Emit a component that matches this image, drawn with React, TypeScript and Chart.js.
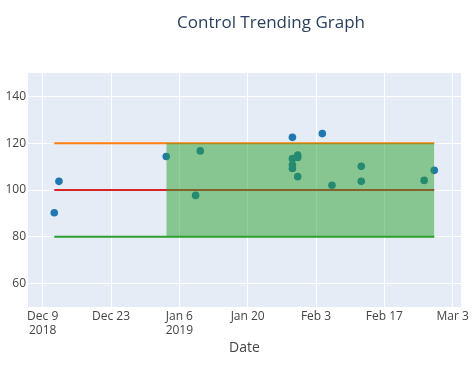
import React, { useEffect, useRef } from "react";
import { Chart, registerables } from "chart.js";

Chart.register(...registerables);

// ---- data ----
const TITLE = "Control Trending Graph";
const X_TITLE = "Date";
const ORIGIN = "2018-12-09T00:00";

const pointDates = [
  "2018-12-11T09:00",
  "2018-12-12T08:00",
  "2019-01-03T07:40",
  "2019-01-09T08:00",
  "2019-01-10T07:00",
  "2019-01-29T04:00",
  "2019-01-29T04:00",
  "2019-01-29T04:00",
  "2019-01-29T04:00",
  "2019-01-30T06:00",
  "2019-01-30T06:00",
  "2019-01-30T06:00",
  "2019-02-04T07:00",
  "2019-02-06T06:30",
  "2019-02-12T06:30",
  "2019-02-12T06:30",
  "2019-02-25T04:00",
  "2019-02-27T05:30",
];
const pointValues = [
  90.3, 103.7, 114.3, 97.7, 116.7, 122.5, 113.4, 110.8, 109.2, 114.9, 113.9,
  105.7, 124.1, 102.0, 110.1, 103.7, 104.1, 108.4,
];

const UCL = 120;
const CENTER = 100;
const LCL = 80;
const LIMIT_START = "2018-12-11T09:00";
const BAND_START = "2019-01-03T07:40";
const LIMIT_END = "2019-02-27T05:30";

const xTickDates = [
  "2018-12-09T00:00",
  "2018-12-23T00:00",
  "2019-01-06T00:00",
  "2019-01-20T00:00",
  "2019-02-03T00:00",
  "2019-02-17T00:00",
  "2019-03-03T00:00",
];
const xTickLabels = [
  ["Dec 9", "2018"],
  ["Dec 23"],
  ["Jan 6", "2019"],
  ["Jan 20"],
  ["Feb 3"],
  ["Feb 17"],
  ["Mar 3"],
];
const yTicks = [60, 80, 100, 120, 140];
const X_MIN = "2018-12-05T23:45";
const X_MAX = "2019-03-04T17:00";
const Y_MIN = 50;
const Y_MAX = 150;

const toDay = (s: string) =>
  (Date.parse(s + ":00Z") - Date.parse(ORIGIN + ":00Z")) / 86400000;

const FONT = '"Open Sans", "DejaVu Sans", sans-serif';

export default function App() {
  const ref = useRef<HTMLCanvasElement | null>(null);

  useEffect(() => {
    if (!ref.current) return;
    Chart.defaults.font.family = FONT;

    const bgPlugin = {
      id: "plotBg",
      beforeDraw(chart: any) {
        const { ctx, chartArea } = chart;
        const { left, top, right, bottom } = chartArea;
        ctx.save();
        ctx.fillStyle = "#e5ecf6";
        ctx.fillRect(left, top, right - left, bottom - top);
        ctx.restore();
      },
    };
    const titlePlugin = {
      id: "plotTitle",
      afterDraw(chart: any) {
        const { ctx } = chart;
        ctx.save();
        ctx.font = `17px ${FONT}`;
        ctx.fillStyle = "#2a3f5f";
        ctx.textAlign = "center";
        ctx.textBaseline = "middle";
        ctx.fillText(TITLE, 271, 23);
        ctx.restore();
      },
    };

    const tickDays = xTickDates.map(toDay);
    const seg = (a: string, b: string, v: number) => [
      { x: toDay(a), y: v },
      { x: toDay(b), y: v },
    ];

    const chart = new Chart(ref.current, {
      type: "scatter",
      data: {
        datasets: [
          {
            data: seg(BAND_START, LIMIT_END, UCL),
            showLine: true,
            fill: { value: LCL },
            backgroundColor: "rgba(44,160,44,0.5)",
            borderColor: "rgba(0,0,0,0)",
            borderWidth: 0,
            pointRadius: 0,
            order: 0,
          } as any,
          {
            data: seg(LIMIT_START, LIMIT_END, UCL),
            showLine: true,
            borderColor: "#ff7f0e",
            borderWidth: 2,
            pointRadius: 0,
            order: 1,
          },
          {
            data: seg(LIMIT_START, LIMIT_END, CENTER),
            showLine: true,
            borderColor: "#d62728",
            borderWidth: 2,
            pointRadius: 0,
            order: 1,
          },
          {
            data: seg(LIMIT_START, LIMIT_END, LCL),
            showLine: true,
            borderColor: "#2ca02c",
            borderWidth: 2,
            pointRadius: 0,
            order: 1,
          },
          {
            data: pointDates.map((d, i) => ({ x: toDay(d), y: pointValues[i] })),
            backgroundColor: "#1f77b4",
            borderWidth: 0,
            pointRadius: 3.8,
            order: 2,
          },
        ],
      },
      options: {
        animation: false,
        responsive: false,
        devicePixelRatio: 1,
        layout: { padding: { top: 73, right: 13, bottom: 10, left: 0 } },
        plugins: {
          legend: { display: false },
          tooltip: { enabled: false },
          title: { display: false },
        },
        scales: {
          x: {
            type: "linear",
            min: toDay(X_MIN),
            max: toDay(X_MAX),
            afterBuildTicks: (s: any) => {
              s.ticks = tickDays.map((v) => ({ value: v }));
            },
            afterFit: (s: any) => {
              s.height = 49;
            },
            ticks: {
              autoSkip: false,
              maxRotation: 0,
              padding: 2,
              color: "#444",
              font: { size: 12 },
              callback: (v: any) => {
                const i = tickDays.findIndex((d) => Math.abs(d - v) < 1e-6);
                return i >= 0 ? xTickLabels[i] : "";
              },
            },
            grid: { color: "#ffffff", lineWidth: 1, drawTicks: false },
            border: { display: false },
            title: {
              display: true,
              text: X_TITLE,
              color: "#444",
              font: { size: 14 },
              padding: 0,
            },
          },
          y: {
            type: "linear",
            min: Y_MIN,
            max: Y_MAX,
            afterBuildTicks: (s: any) => {
              s.ticks = yTicks.map((v) => ({ value: v }));
            },
            afterFit: (s: any) => {
              s.width = 28;
            },
            ticks: {
              padding: 2,
              color: "#444",
              font: { size: 12 },
            },
            grid: { color: "#ffffff", lineWidth: 1, drawTicks: false },
            border: { display: false },
          },
        },
      } as any,
      plugins: [bgPlugin, titlePlugin],
    });
    return () => chart.destroy();
  }, []);

  return (
    <div style={{ position: "absolute", left: 0, top: 0, width: 474, height: 366, background: "#fff" }}>
      <canvas ref={ref} width={474} height={366} style={{ display: "block" }} />
    </div>
  );
}
